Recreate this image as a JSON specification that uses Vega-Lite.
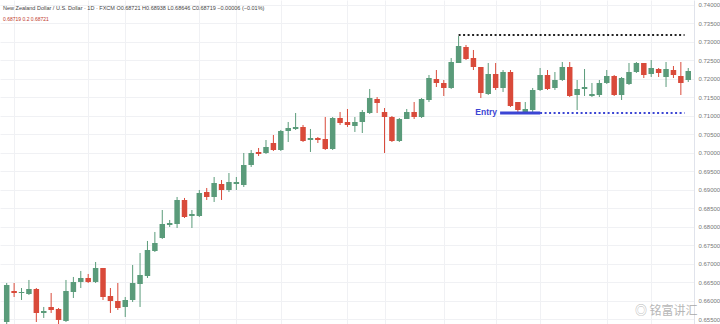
{
  "$schema": "https://vega.github.io/schema/vega-lite/v6.json",
  "width": 720,
  "height": 324,
  "autosize": {"type": "fit", "contains": "padding"},
  "padding": 0,
  "background": "white",
  "config": {"view": {"stroke": null}, "font": "Liberation Sans"},
  "title": {
    "text": "New Zealand Dollar / U.S. Dollar · 1D · FXCM   O0.68721 H0.68938 L0.68646 C0.68719 −0.00006 (−0.01%)",
    "subtitle": "0.68719   0.2   0.68721",
    "anchor": "start",
    "frame": "group",
    "orient": "top",
    "offset": -22,
    "dx": 3,
    "fontSize": 5.5,
    "fontWeight": "normal",
    "color": "#444444",
    "subtitleFontSize": 5,
    "subtitleColor": "#c0392b",
    "subtitlePadding": 6
  },
  "datasets": {
    "candles": [
      {"i":0,"o":0.65432,"h":0.66486,"l":0.65378,"c":0.66432},
      {"i":1,"o":0.66270,"h":0.66486,"l":0.66108,"c":0.66216},
      {"i":2,"o":0.66216,"h":0.66351,"l":0.66027,"c":0.66243},
      {"i":3,"o":0.66189,"h":0.66568,"l":0.66162,"c":0.66324},
      {"i":4,"o":0.66324,"h":0.66351,"l":0.65432,"c":0.65676},
      {"i":5,"o":0.65676,"h":0.65838,"l":0.65541,"c":0.65730},
      {"i":6,"o":0.65838,"h":0.66216,"l":0.65676,"c":0.65757},
      {"i":7,"o":0.65784,"h":0.65811,"l":0.65378,"c":0.65487},
      {"i":8,"o":0.65460,"h":0.66568,"l":0.65432,"c":0.66270},
      {"i":9,"o":0.66243,"h":0.66649,"l":0.66081,"c":0.66514},
      {"i":10,"o":0.66514,"h":0.66811,"l":0.66351,"c":0.66622},
      {"i":11,"o":0.66622,"h":0.66730,"l":0.66486,"c":0.66514},
      {"i":12,"o":0.66514,"h":0.67054,"l":0.66486,"c":0.66892},
      {"i":13,"o":0.66892,"h":0.66892,"l":0.66027,"c":0.66108},
      {"i":14,"o":0.66135,"h":0.66351,"l":0.65676,"c":0.66000},
      {"i":15,"o":0.66000,"h":0.66486,"l":0.65757,"c":0.65811},
      {"i":16,"o":0.65838,"h":0.66108,"l":0.65568,"c":0.66027},
      {"i":17,"o":0.66027,"h":0.66973,"l":0.65973,"c":0.66486},
      {"i":18,"o":0.66459,"h":0.67297,"l":0.65838,"c":0.66703},
      {"i":19,"o":0.66676,"h":0.67622,"l":0.66622,"c":0.67378},
      {"i":20,"o":0.67351,"h":0.67865,"l":0.67324,"c":0.67568},
      {"i":21,"o":0.67703,"h":0.68459,"l":0.67676,"c":0.68081},
      {"i":22,"o":0.68054,"h":0.68189,"l":0.68000,"c":0.68108},
      {"i":23,"o":0.68081,"h":0.68811,"l":0.67973,"c":0.68730},
      {"i":24,"o":0.68730,"h":0.68784,"l":0.68243,"c":0.68270},
      {"i":25,"o":0.68297,"h":0.68459,"l":0.67973,"c":0.68351},
      {"i":26,"o":0.68297,"h":0.69000,"l":0.68270,"c":0.68919},
      {"i":27,"o":0.68946,"h":0.69054,"l":0.68730,"c":0.68811},
      {"i":28,"o":0.68811,"h":0.69351,"l":0.68676,"c":0.69189},
      {"i":29,"o":0.69162,"h":0.69270,"l":0.68730,"c":0.69000},
      {"i":30,"o":0.69000,"h":0.69459,"l":0.68946,"c":0.69216},
      {"i":31,"o":0.69162,"h":0.69351,"l":0.69000,"c":0.69216},
      {"i":32,"o":0.69135,"h":0.70000,"l":0.69081,"c":0.69676},
      {"i":33,"o":0.69676,"h":0.70081,"l":0.69622,"c":0.70000},
      {"i":34,"o":0.70027,"h":0.70135,"l":0.69919,"c":0.69973},
      {"i":35,"o":0.70000,"h":0.70351,"l":0.69973,"c":0.70162},
      {"i":36,"o":0.70270,"h":0.70486,"l":0.70054,"c":0.70081},
      {"i":37,"o":0.70081,"h":0.70622,"l":0.70054,"c":0.70595},
      {"i":38,"o":0.70595,"h":0.70838,"l":0.70297,"c":0.70676},
      {"i":39,"o":0.70649,"h":0.71081,"l":0.70622,"c":0.70703},
      {"i":40,"o":0.70703,"h":0.70757,"l":0.70297,"c":0.70324},
      {"i":41,"o":0.70351,"h":0.70649,"l":0.70027,"c":0.70405},
      {"i":42,"o":0.70405,"h":0.70432,"l":0.70270,"c":0.70351},
      {"i":43,"o":0.70378,"h":0.70973,"l":0.70081,"c":0.70108},
      {"i":44,"o":0.70108,"h":0.70973,"l":0.70081,"c":0.70946},
      {"i":45,"o":0.70946,"h":0.71108,"l":0.70757,"c":0.70811},
      {"i":46,"o":0.70838,"h":0.71189,"l":0.70703,"c":0.70757},
      {"i":47,"o":0.70730,"h":0.70973,"l":0.70568,"c":0.70838},
      {"i":48,"o":0.70838,"h":0.71162,"l":0.70540,"c":0.71108},
      {"i":49,"o":0.71081,"h":0.71730,"l":0.71054,"c":0.71486},
      {"i":50,"o":0.71459,"h":0.71513,"l":0.71081,"c":0.71351},
      {"i":51,"o":0.71108,"h":0.71216,"l":0.70000,"c":0.70973},
      {"i":52,"o":0.70973,"h":0.71000,"l":0.70297,"c":0.70324},
      {"i":53,"o":0.70324,"h":0.70946,"l":0.70297,"c":0.70919},
      {"i":54,"o":0.70919,"h":0.71189,"l":0.70919,"c":0.71108},
      {"i":55,"o":0.71108,"h":0.71378,"l":0.70919,"c":0.70973},
      {"i":56,"o":0.70973,"h":0.71486,"l":0.70946,"c":0.71459},
      {"i":57,"o":0.71432,"h":0.72108,"l":0.71378,"c":0.72027},
      {"i":58,"o":0.72000,"h":0.72243,"l":0.71784,"c":0.71892},
      {"i":59,"o":0.71892,"h":0.71973,"l":0.71540,"c":0.71757},
      {"i":60,"o":0.71757,"h":0.72567,"l":0.71730,"c":0.72459},
      {"i":61,"o":0.72432,"h":0.73160,"l":0.72432,"c":0.72892},
      {"i":62,"o":0.72865,"h":0.72919,"l":0.72513,"c":0.72540},
      {"i":63,"o":0.72567,"h":0.72784,"l":0.72243,"c":0.72324},
      {"i":64,"o":0.72324,"h":0.72324,"l":0.71486,"c":0.71622},
      {"i":65,"o":0.71594,"h":0.72432,"l":0.71567,"c":0.72135},
      {"i":66,"o":0.72135,"h":0.72432,"l":0.71703,"c":0.71757},
      {"i":67,"o":0.71757,"h":0.72243,"l":0.71649,"c":0.72189},
      {"i":68,"o":0.72189,"h":0.72243,"l":0.71243,"c":0.71270},
      {"i":69,"o":0.71378,"h":0.71378,"l":0.71108,"c":0.71162},
      {"i":70,"o":0.71108,"h":0.71378,"l":0.71081,"c":0.71189},
      {"i":71,"o":0.71162,"h":0.71757,"l":0.71108,"c":0.71703},
      {"i":72,"o":0.71703,"h":0.72297,"l":0.71676,"c":0.72108},
      {"i":73,"o":0.72108,"h":0.72243,"l":0.71703,"c":0.71730},
      {"i":74,"o":0.71757,"h":0.72189,"l":0.71703,"c":0.71973},
      {"i":75,"o":0.71973,"h":0.72459,"l":0.71946,"c":0.72324},
      {"i":76,"o":0.72324,"h":0.72459,"l":0.71513,"c":0.71540},
      {"i":77,"o":0.71567,"h":0.71973,"l":0.71162,"c":0.71730},
      {"i":78,"o":0.71730,"h":0.72270,"l":0.71540,"c":0.71784},
      {"i":79,"o":0.71540,"h":0.71892,"l":0.71513,"c":0.71594},
      {"i":80,"o":0.71567,"h":0.71973,"l":0.71513,"c":0.71892},
      {"i":81,"o":0.71892,"h":0.72243,"l":0.71865,"c":0.72081},
      {"i":82,"o":0.72081,"h":0.72108,"l":0.71540,"c":0.71567},
      {"i":83,"o":0.71567,"h":0.72054,"l":0.71432,"c":0.72027},
      {"i":84,"o":0.71865,"h":0.72432,"l":0.71838,"c":0.72189},
      {"i":85,"o":0.72189,"h":0.72459,"l":0.72162,"c":0.72432},
      {"i":86,"o":0.72432,"h":0.72432,"l":0.72027,"c":0.72108},
      {"i":87,"o":0.72135,"h":0.72513,"l":0.72054,"c":0.72297},
      {"i":88,"o":0.72270,"h":0.72297,"l":0.72054,"c":0.72162},
      {"i":89,"o":0.72054,"h":0.72459,"l":0.71784,"c":0.72270},
      {"i":90,"o":0.72243,"h":0.72351,"l":0.72027,"c":0.72108},
      {"i":91,"o":0.72081,"h":0.72459,"l":0.71567,"c":0.71892},
      {"i":92,"o":0.71973,"h":0.72297,"l":0.71919,"c":0.72216}
    ],
    "levels": [
      {"name": "high", "start": 61, "end": 91.5, "price": 0.7319},
      {"name": "entrySolid", "start": 66.6, "end": 72, "price": 0.71081},
      {"name": "entryDots", "start": 72, "end": 91.5, "price": 0.71081}
    ],
    "labels": [
      {"label": "Entry", "at": 66.6, "price": 0.71081}
    ],
    "marks": [
      {"label": "◎ 铭富讲汇", "at": 84.8, "price": 0.65725}
    ]
  },
  "encoding": {
    "x": {
      "type": "quantitative",
      "scale": {"domain": [-0.23, 92.1], "nice": false, "zero": false},
      "axis": {"labels": false, "ticks": false, "domain": false, "title": null, "grid": true, "gridColor": "#f0f1f4", "values": [1, 11, 16, 26, 31, 37, 46, 51, 59, 66, 72, 81, 87]}
    },
    "y": {
      "type": "quantitative",
      "scale": {"domain": [0.65378, 0.74135], "nice": false, "zero": false},
      "axis": {"orient": "right", "title": null, "values": [0.655,0.66,0.665,0.67,0.675,0.68,0.685,0.69,0.695,0.7,0.705,0.71,0.715,0.72,0.725,0.73,0.735,0.74], "format": ".5f", "labelFontSize": 6, "labelColor": "#777777", "ticks": false, "domain": true, "domainColor": "#e0e3eb", "labelPadding": 4, "grid": true, "gridColor": "#f0f1f4"}
    }
  },
  "layer": [
    {
      "data": {"name": "candles"},
      "mark": {"type": "rule", "strokeWidth": 1, "clip": true},
      "encoding": {
        "x": {"field": "i"},
        "y": {"field": "l"},
        "y2": {"field": "h"},
        "color": {"condition": {"test": "datum.c >= datum.o", "value": "#5a9b7a"}, "value": "#d94a3a"}
      }
    },
    {
      "data": {"name": "candles"},
      "mark": {"type": "bar", "size": 5.5, "clip": true, "minBandSize": 1},
      "encoding": {
        "x": {"field": "i"},
        "y": {"field": "o"},
        "y2": {"field": "c"},
        "color": {"condition": {"test": "datum.c >= datum.o", "value": "#5a9b7a"}, "value": "#d94a3a"}
      }
    },
    {
      "data": {"name": "levels"},
      "transform": [{"filter": "datum.name == 'high'"}],
      "mark": {"type": "rule", "color": "#222222", "strokeWidth": 2, "strokeDash": [2, 2.5]},
      "encoding": {"x": {"field": "start"}, "x2": {"field": "end"}, "y": {"field": "price"}}
    },
    {
      "data": {"name": "levels"},
      "transform": [{"filter": "datum.name == 'entryDots'"}],
      "mark": {"type": "rule", "color": "#3b45d4", "strokeWidth": 2, "strokeDash": [2, 2.5]},
      "encoding": {"x": {"field": "start"}, "x2": {"field": "end"}, "y": {"field": "price"}}
    },
    {
      "data": {"name": "levels"},
      "transform": [{"filter": "datum.name == 'entrySolid'"}],
      "mark": {"type": "rule", "color": "#3b45d4", "strokeWidth": 3},
      "encoding": {"x": {"field": "start"}, "x2": {"field": "end"}, "y": {"field": "price"}}
    },
    {
      "data": {"name": "labels"},
      "mark": {"type": "text", "color": "#3b45d4", "fontSize": 8.5, "fontWeight": "bold", "align": "right", "baseline": "middle", "dx": -3, "dy": -1},
      "encoding": {"x": {"field": "at"}, "y": {"field": "price"}, "text": {"field": "label"}}
    },
    {
      "data": {"name": "marks"},
      "mark": {"type": "text", "color": "#9a9a9a", "opacity": 0.7, "fontSize": 12, "font": "Noto Sans CJK SC", "align": "left", "baseline": "middle", "clip": false},
      "encoding": {"x": {"field": "at"}, "y": {"field": "price"}, "text": {"field": "label"}}
    }
  ]
}
